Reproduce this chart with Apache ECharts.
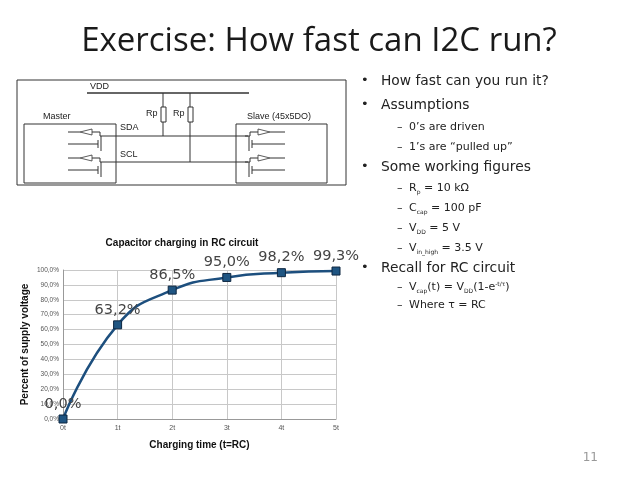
<!DOCTYPE html>
<html>
<head>
<meta charset="UTF-8">
<style>
    html, body { margin: 0; background: #fff; }
    #main { width: 638px; height: 478px; }
</style>
<script src="https://cdn.jsdelivr.net/npm/echarts@6/dist/echarts.min.js"></script>
</head>
<body>
<div id="main"></div>
<script>
var categories = ['0t', '1t', '2t', '3t', '4t', '5t'];
var charge = [0.0, 63.2, 86.5, 95.0, 98.2, 99.3];
var yTicks = [0, 10, 20, 30, 40, 50, 60, 70, 80, 90, 100];

var BL = '#333';
var FONT = 'DejaVu Sans';

function txt(x, y, s, size, extra) {
    var st = { x: x, y: y, text: s, fontSize: size, fontFamily: FONT, fill: '#222', textVerticalAlign: 'middle' };
    for (var k in extra) st[k] = extra[k];
    return { type: 'text', style: st };
}
function ln(x1, y1, x2, y2, w) {
    return { type: 'line', shape: { x1: x1, y1: y1, x2: x2, y2: y2 }, style: { stroke: BL, lineWidth: w || 1 } };
}
function box(x, y, w, h, fill) {
    return { type: 'rect', shape: { x: x, y: y, width: w, height: h }, style: { stroke: BL, fill: fill || 'none', lineWidth: 1 } };
}
function tri(x, y, dir) {
    // small buffer triangle, dir = -1 points left, 1 points right
    var tip = x + dir * 12;
    return { type: 'polygon', shape: { points: [[x, y - 3], [x, y + 3], [tip, y]] }, style: { stroke: BL, fill: '#fff', lineWidth: 0.8 } };
}

var g = [];
// slide title
g.push(txt(319, 42, 'Exercise: How fast can I2C run?', 33, { fontFamily: 'Open Sans', textAlign: 'center', fill: '#1a1a1a' }));
g.push(txt(598, 458, '11', 12, { textAlign: 'right', fill: '#999' }));

// circuit drawing
g.push(box(17, 80, 329, 105));
g.push(ln(87, 93, 249, 93, 1.5));
g.push(txt(90, 87, 'VDD', 9, { fontFamily: 'Liberation Sans' }));
g.push(ln(163, 93, 163, 136), ln(190, 93, 190, 162));
g.push(box(161, 107, 5, 15, '#fff'), box(188, 107, 5, 15, '#fff'));
g.push(txt(146, 114, 'Rp', 9, { fontFamily: 'Liberation Sans' }), txt(173, 114, 'Rp', 9, { fontFamily: 'Liberation Sans' }));
g.push(box(24, 124, 92, 59), box(236, 124, 91, 59));
g.push(txt(43, 117, 'Master', 9, { fontFamily: 'Liberation Sans' }), txt(247, 117, 'Slave (45x5DO)', 9, { fontFamily: 'Liberation Sans' }));
g.push(ln(105, 136, 248, 136), ln(105, 162, 248, 162));
g.push(txt(120, 128, 'SDA', 9, { fontFamily: 'Liberation Sans' }), txt(120, 155, 'SCL', 9, { fontFamily: 'Liberation Sans' }));
[132, 158].forEach(function (y) {
    // master side
    g.push(ln(68, y, 80, y), tri(92, y, -1), ln(92, y, 100, y), ln(100, y, 100, y + 4), ln(100, y + 4, 105, y + 4));
    g.push(ln(68, y + 12, 98, y + 12), ln(98, y + 8, 98, y + 16), ln(101, y + 8, 101, y + 16), ln(101, y + 16, 101, y + 19));
    g.push(ln(101, y + 8, 101, y + 4));
    // slave side
    g.push(ln(245, y + 4, 250, y + 4), ln(250, y + 4, 250, y), ln(250, y, 258, y), tri(258, y, 1), ln(270, y, 285, y));
    g.push(ln(252, y + 12, 285, y + 12), ln(252, y + 8, 252, y + 16), ln(249, y + 8, 249, y + 16), ln(249, y + 16, 249, y + 19));
    g.push(ln(249, y + 8, 249, y + 4));
});

// bullet list
function bullet(y, s) {
    g.push(txt(361, y, '•', 13), txt(381, y, s, 13.8));
}
function sub(y, s, rich) {
    var t = txt(409, y, s, 11);
    g.push(txt(397, y, '–', 11), t);
    if (rich) t.style.rich = { s: { fontSize: 6, fontFamily: FONT, fill: '#222', padding: [8, 0, 0, 0] }, p: { fontSize: 6, fontFamily: FONT, fill: '#222', padding: [0, 0, 6, 0] } };
}
bullet(81, 'How fast can you run it?');
bullet(105, 'Assumptions');
sub(127, '0’s are driven');
sub(147, '1’s are “pulled up”');
bullet(167, 'Some working figures');
sub(188, 'R{s|p} = 10 kΩ', true);
sub(208, 'C{s|cap} = 100 pF', true);
sub(228, 'V{s|DD} = 5 V', true);
sub(248, 'V{s|in_high} = 3.5 V', true);
bullet(268, 'Recall for RC circuit');
sub(287, 'V{s|cap}(t) = V{s|DD}(1-e{p|-t/τ})', true);
sub(305, 'Where τ = RC');

var option = {
    animation: false,
    backgroundColor: '#fff',
    title: {
        text: 'Capacitor charging in RC circuit',
        left: 177, top: 233, textAlign: 'center',
        textStyle: { fontSize: 10, fontWeight: 'bold', fontFamily: 'Liberation Sans', color: '#111' }
    },
    grid: { left: 63, right: 302, top: 270, bottom: 59 },
    xAxis: {
        type: 'category', data: categories, boundaryGap: false,
        name: 'Charging time (t=RC)', nameLocation: 'middle', nameGap: 21,
        nameTextStyle: { fontSize: 10, fontWeight: 'bold', fontFamily: 'Liberation Sans', color: '#111' },
        axisLine: { lineStyle: { color: '#999' } },
        axisTick: { show: false },
        axisLabel: { fontSize: 7, color: '#555', margin: 6 },
        splitLine: { show: true, lineStyle: { color: '#c8c8c8' } }
    },
    yAxis: {
        type: 'value', min: yTicks[0], max: yTicks[yTicks.length - 1], interval: 10,
        name: 'Percent of supply voltage', nameLocation: 'middle', nameGap: 33,
        nameTextStyle: { fontSize: 10, fontWeight: 'bold', fontFamily: 'Liberation Sans', color: '#111' },
        axisLine: { show: true, lineStyle: { color: '#999' } },
        axisLabel: { fontSize: 6.5, color: '#555', margin: 4, formatter: function (v) { return v.toFixed(1).replace('.', ',') + '%'; } },
        splitLine: { lineStyle: { color: '#c8c8c8' } }
    },
    series: [{
        type: 'line', data: charge, smooth: 0.5,
        symbol: 'rect', symbolSize: 8,
        lineStyle: { color: '#1d4f7e', width: 2.5 },
        itemStyle: { color: '#1f5582', borderColor: '#0d2640', borderWidth: 1 },
        label: {
            show: true, position: 'top', distance: 3, fontSize: 14.5, color: '#444', fontFamily: FONT,
            formatter: function (p) { return p.value.toFixed(1).replace('.', ',') + '%'; }
        }
    }],
    graphic: g
};

echarts.init(document.getElementById('main')).setOption(option);
</script>
</body>
</html>
